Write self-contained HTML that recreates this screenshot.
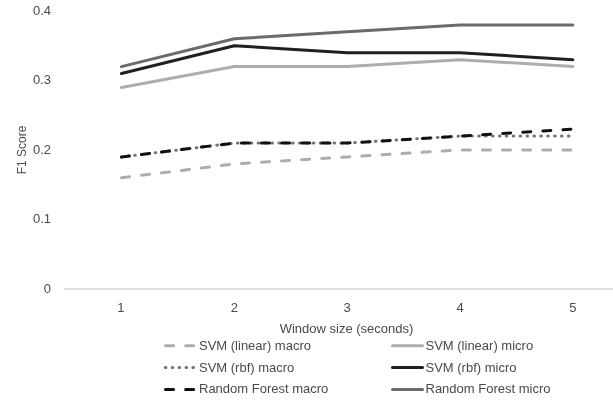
<!DOCTYPE html>
<html><head><meta charset="utf-8"><style>
html,body{margin:0;padding:0;background:#fff;}
body{width:613px;height:412px;overflow:hidden;}
svg{display:block;will-change:transform;}
text{font-family:"Liberation Sans",Arial,sans-serif;fill:#4a4a4a;font-size:13px;}
</style></head><body>
<svg width="613" height="412" viewBox="0 0 613 412">
<rect x="0" y="0" width="613" height="412" fill="#fff"/>
<rect x="64" y="288" width="549" height="2" fill="#dedede"/>
<text x="51" y="292.9" text-anchor="end">0</text>
<text x="51" y="223.4" text-anchor="end">0.1</text>
<text x="51" y="153.9" text-anchor="end">0.2</text>
<text x="51" y="84.4" text-anchor="end">0.3</text>
<text x="51" y="14.9" text-anchor="end">0.4</text>
<text x="120.8" y="312" text-anchor="middle">1</text>
<text x="234.3" y="312" text-anchor="middle">2</text>
<text x="347.2" y="312" text-anchor="middle">3</text>
<text x="460.0" y="312" text-anchor="middle">4</text>
<text x="572.9" y="312" text-anchor="middle">5</text>
<text x="346.5" y="333.2" text-anchor="middle">Window size (seconds)</text>
<text transform="translate(26.2 150) rotate(-90)" text-anchor="middle" style="font-size:12px">F1 Score</text>
<polyline points="121.50,177.80 234.35,163.90 347.20,156.95 460.05,150.00 572.90,150.00" fill="none" stroke="#adadad" stroke-width="3" stroke-linejoin="round" stroke-dasharray="8.05 12.07" stroke-linecap="round"/>
<polyline points="121.50,87.45 234.35,66.60 347.20,66.60 460.05,59.65 572.90,66.60" fill="none" stroke="#adadad" stroke-width="3" stroke-linejoin="round" stroke-linecap="round"/>
<polyline points="121.50,156.95 234.35,143.05 347.20,143.05 460.05,136.10 572.90,136.10" fill="none" stroke="#737373" stroke-width="3" stroke-linejoin="round" stroke-dasharray="0.6 6.3" stroke-linecap="round" stroke-dashoffset="0.54"/>
<polyline points="121.50,73.55 234.35,45.75 347.20,52.70 460.05,52.70 572.90,59.65" fill="none" stroke="#202020" stroke-width="3" stroke-linejoin="round" stroke-linecap="round"/>
<polyline points="121.50,156.95 234.35,143.05 347.20,143.05 460.05,136.10 572.90,129.15" fill="none" stroke="#111111" stroke-width="3" stroke-linejoin="round" stroke-dasharray="8.05 12.07" stroke-linecap="round"/>
<polyline points="121.50,66.60 234.35,38.80 347.20,31.85 460.05,24.90 572.90,24.90" fill="none" stroke="#6b6b6b" stroke-width="3" stroke-linejoin="round" stroke-linecap="round"/>
<line x1="165.5" y1="345.7" x2="197" y2="345.7" stroke="#adadad" stroke-width="3" stroke-dasharray="8.05 12.07" stroke-linecap="round"/>
<text x="199" y="349.95">SVM (linear) macro</text>
<line x1="392.5" y1="345.7" x2="422.5" y2="345.7" stroke="#adadad" stroke-width="3" stroke-linecap="round"/>
<text x="425.5" y="349.95">SVM (linear) micro</text>
<line x1="165.3" y1="367.6" x2="194" y2="367.6" stroke="#737373" stroke-width="3" stroke-dasharray="0.6 6.3" stroke-linecap="round"/>
<text x="199" y="371.6">SVM (rbf) macro</text>
<line x1="392.5" y1="367.6" x2="422.5" y2="367.6" stroke="#202020" stroke-width="3" stroke-linecap="round"/>
<text x="425.5" y="371.6">SVM (rbf) micro</text>
<line x1="165.5" y1="389.5" x2="197" y2="389.5" stroke="#111111" stroke-width="3" stroke-dasharray="8.05 12.07" stroke-linecap="round"/>
<text x="199" y="392.8">Random Forest macro</text>
<line x1="392.5" y1="389.5" x2="422.5" y2="389.5" stroke="#6b6b6b" stroke-width="3" stroke-linecap="round"/>
<text x="425.5" y="392.8">Random Forest micro</text>
</svg>
</body></html>
